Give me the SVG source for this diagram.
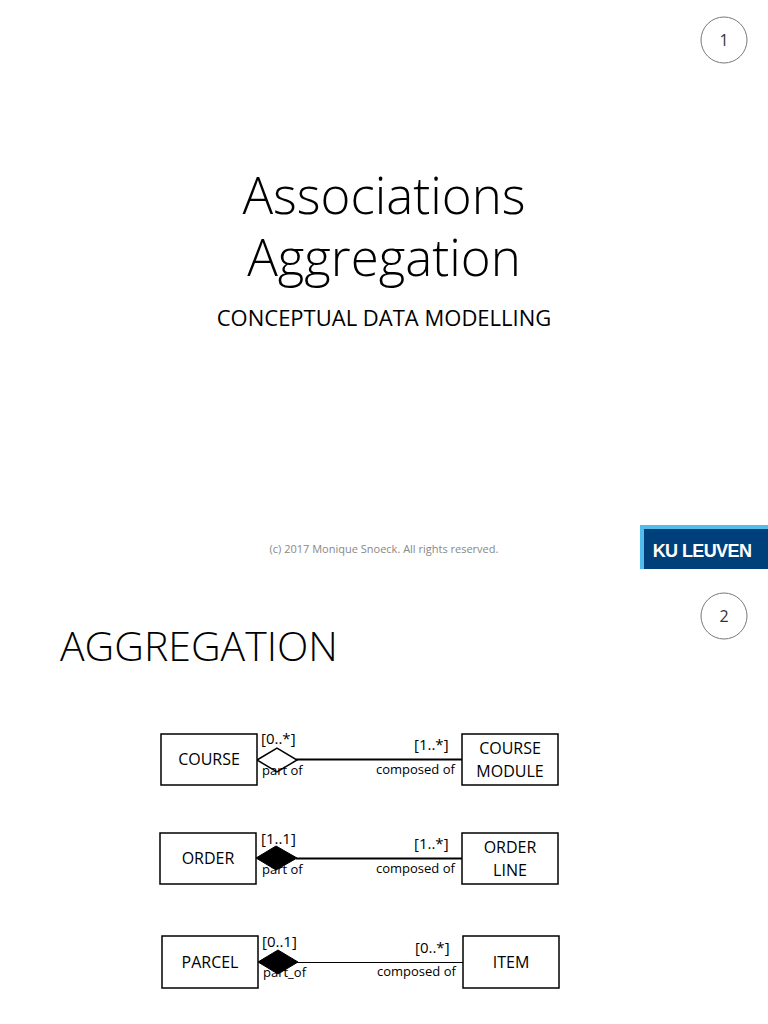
<svg xmlns="http://www.w3.org/2000/svg" width="768" height="1024" viewBox="0 0 768 1024">
<style>
text{font-family:"Open Sans","Liberation Sans",sans-serif;fill:#000}
.box{fill:#fff;stroke:#000;stroke-width:1.5}
.lbl{font-size:16px;text-anchor:middle}
.sm{font-size:13px}
.num{font-size:16px;text-anchor:middle;fill:#333}
.circ{fill:#fff;stroke:#777;stroke-width:1}
</style>
<rect width="768" height="1024" fill="#fff"/>
<circle class="circ" cx="724" cy="40" r="23"/>
<text class="num" x="724" y="46">1</text>
<text x="384" y="214" font-size="51" text-anchor="middle" font-weight="300">Associations</text>
<text x="384" y="276" font-size="51" text-anchor="middle" font-weight="300">Aggregation</text>
<text x="384" y="326" font-size="22" text-anchor="middle">CONCEPTUAL DATA MODELLING</text>
<text x="384" y="553" font-size="11" text-anchor="middle" style="fill:#888">(c) 2017 Monique Snoeck. All rights reserved.</text>
<rect x="640" y="525" width="128" height="44" fill="#52bdec"/>
<rect x="644" y="529" width="124" height="40" fill="#00407a"/>
<text x="702" y="557" font-size="18" font-weight="bold" text-anchor="middle" style="fill:#fff;font-family:'Liberation Sans',sans-serif" letter-spacing="-0.6">KU LEUVEN</text>
<circle class="circ" cx="724" cy="616" r="23"/>
<text class="num" x="724" y="622">2</text>
<text x="60" y="661" font-size="41" font-weight="300">AGGREGATION</text>
<g id="connectors" stroke="#000">
<line x1="296" y1="759.5" x2="462" y2="759.5" stroke-width="2"/>
<polygon points="257,760 277,748 297,760 277,772" fill="#fff" stroke-width="1.5"/>
<line x1="296" y1="858.5" x2="462" y2="858.5" stroke-width="2"/>
<polygon points="256,858 276,846 297,858 276,870" fill="#000"/>
<line x1="296" y1="962.5" x2="463" y2="962.5" stroke-width="1.2"/>
<polygon points="258,962 278,950 298,962 278,974" fill="#000"/>
</g>
<g id="course"><rect class="box" x="161" y="734" width="96" height="51"/><text class="lbl" x="209" y="765">COURSE</text></g>
<g id="course-module"><rect class="box" x="462" y="734" width="96" height="51"/><text class="lbl" x="510" y="754">COURSE</text><text class="lbl" x="510" y="777">MODULE</text></g>
<g id="order"><rect class="box" x="160" y="833" width="96" height="51"/><text class="lbl" x="208" y="864">ORDER</text></g>
<g id="order-line"><rect class="box" x="462" y="833" width="96" height="51"/><text class="lbl" x="510" y="853">ORDER</text><text class="lbl" x="510" y="876">LINE</text></g>
<g id="parcel"><rect class="box" x="162" y="936" width="96" height="52"/><text class="lbl" x="210" y="968">PARCEL</text></g>
<g id="item"><rect class="box" x="463" y="936" width="96" height="52"/><text class="lbl" x="511" y="968">ITEM</text></g>
<g id="labels">
<text x="261" y="744" font-size="15">[0..*]</text>
<text x="262" y="775" class="sm">part of</text>
<text x="414" y="750" font-size="15">[1..*]</text>
<text x="376" y="774" class="sm">composed of</text>
<text x="261" y="844" font-size="15">[1..1]</text>
<text x="262" y="874" class="sm">part of</text>
<text x="414" y="849" font-size="15">[1..*]</text>
<text x="376" y="873" class="sm">composed of</text>
<text x="262" y="947" font-size="15">[0..1]</text>
<text x="263" y="977" class="sm">part_of</text>
<text x="415" y="953" font-size="15">[0..*]</text>
<text x="377" y="976" class="sm">composed of</text>
</g>
</svg>
